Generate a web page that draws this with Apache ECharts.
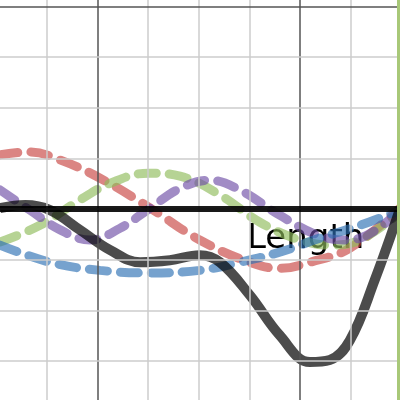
<!DOCTYPE html>
<html>
<head>
<meta charset="utf-8">
<script src="https://cdn.jsdelivr.net/npm/echarts@6/dist/echarts.min.js"></script>
<style>html,body{margin:0;padding:0;background:#fff}#main{width:400px;height:400px}</style>
</head>
<body>
<div id="main"></div>
<script>
// curve points in grid units
var redPts = [[-0.93,1.07],[-0.34,1.13],[0.26,0.97],[1.05,0.61],[2.04,0.02],[3.02,-0.61],[4.01,-1.05],[4.6,-1.17],[5.2,-1.05],[5.99,-0.77],[6.98,0.02]];
var greenPts = [[-0.93,-0.65],[-0.14,-0.32],[0.65,0.18],[1.25,0.51],[2.0,0.71],[2.63,0.65],[3.42,0.28],[4.21,-0.26],[5.0,-0.61],[5.59,-0.71],[6.19,-0.61],[6.98,-0.06]];
var purplePts = [[-0.93,0.38],[-0.34,-0.02],[0.26,-0.41],[0.85,-0.61],[1.44,-0.38],[2.04,0.02],[2.63,0.41],[3.22,0.57],[3.81,0.38],[4.6,-0.12],[5.4,-0.53],[5.99,-0.61],[6.98,-0.02]];
var bluePts = [[-0.93,-0.71],[0.06,-1.05],[1.05,-1.21],[2.04,-1.26],[3.02,-1.21],[3.81,-1.05],[4.6,-0.85],[5.4,-0.57],[6.19,-0.32],[6.98,-0.02]];
var blackPts = [[-0.93,0.02],[-0.43,0.08],[0.06,-0.02],[0.65,-0.41],[1.25,-0.81],[1.84,-1.05],[2.43,-1.01],[3.02,-0.91],[3.42,-1.05],[4.01,-1.70],[4.6,-2.49],[5.2,-3.02],[5.59,-2.98],[5.99,-2.59],[6.48,-1.40],[6.98,0.0]];
var xGrid = [-1, 0, 1, 2, 3, 4, 5, 6];
var yGrid = [-3, -2, -1, 0, 1, 2, 3, 4];
var labelText = 'Length';

var myChart = echarts.init(document.getElementById('main'));

function dashed(name, color, data) {
	return {
		name: name, type: 'line', data: data, smooth: 0.4, symbol: 'none', silent: true,
		lineStyle: { color: color, width: 9, opacity: 0.65, type: [18, 13], cap: 'round' }
	};
}

var gridLines = [];
xGrid.forEach(function(v) {
	var dark = (v == 1 || v == 5);
	gridLines.push({ xAxis: v, lineStyle: { color: dark ? '#555' : '#ccc', width: 1.5, type: 'solid' } });
});
yGrid.forEach(function(v) {
	var dark = (v == 4);
	gridLines.push({ yAxis: v, lineStyle: { color: dark ? '#555' : '#ccc', width: 1.5, type: 'solid' } });
});
gridLines.push({ yAxis: 0, lineStyle: { color: '#000', width: 6, type: 'solid', opacity: 0.9 } });
gridLines.push({ xAxis: 6.96, lineStyle: { color: '#a8c878', width: 4, type: 'solid' } });

var option = {
	animation: false,
	grid: { left: 0, top: 0, right: 0, bottom: 0 },
	xAxis: {
		type: 'value', min: -0.93, max: 6.98,
		axisLine: { show: false }, axisTick: { show: false }, axisLabel: { show: false },
		splitLine: { show: false }
	},
	yAxis: {
		type: 'value', min: -3.77, max: 4.13,
		axisLine: { show: false }, axisTick: { show: false }, axisLabel: { show: false },
		splitLine: { show: false }
	},
	series: [
		{
			type: 'line', data: [], silent: true,
			markLine: { symbol: 'none', label: { show: false }, silent: true, data: gridLines }
		},
		dashed('red', '#c74440', redPts),
		dashed('green', '#8fbc5a', greenPts),
		dashed('purple', '#6f4fa6', purplePts),
		dashed('blue', '#2d70b3', bluePts),
		{
			name: 'black', type: 'line', data: blackPts, smooth: 0.4, symbol: 'none', silent: true,
			lineStyle: { color: '#000', width: 10, opacity: 0.7 }
		}
	],
	graphic: [{
		type: 'text', left: 247, top: 222,
		style: { text: labelText, font: '34px "DejaVu Sans"', fill: '#000' }
	}]
};
myChart.setOption(option);
</script>
</body>
</html>
